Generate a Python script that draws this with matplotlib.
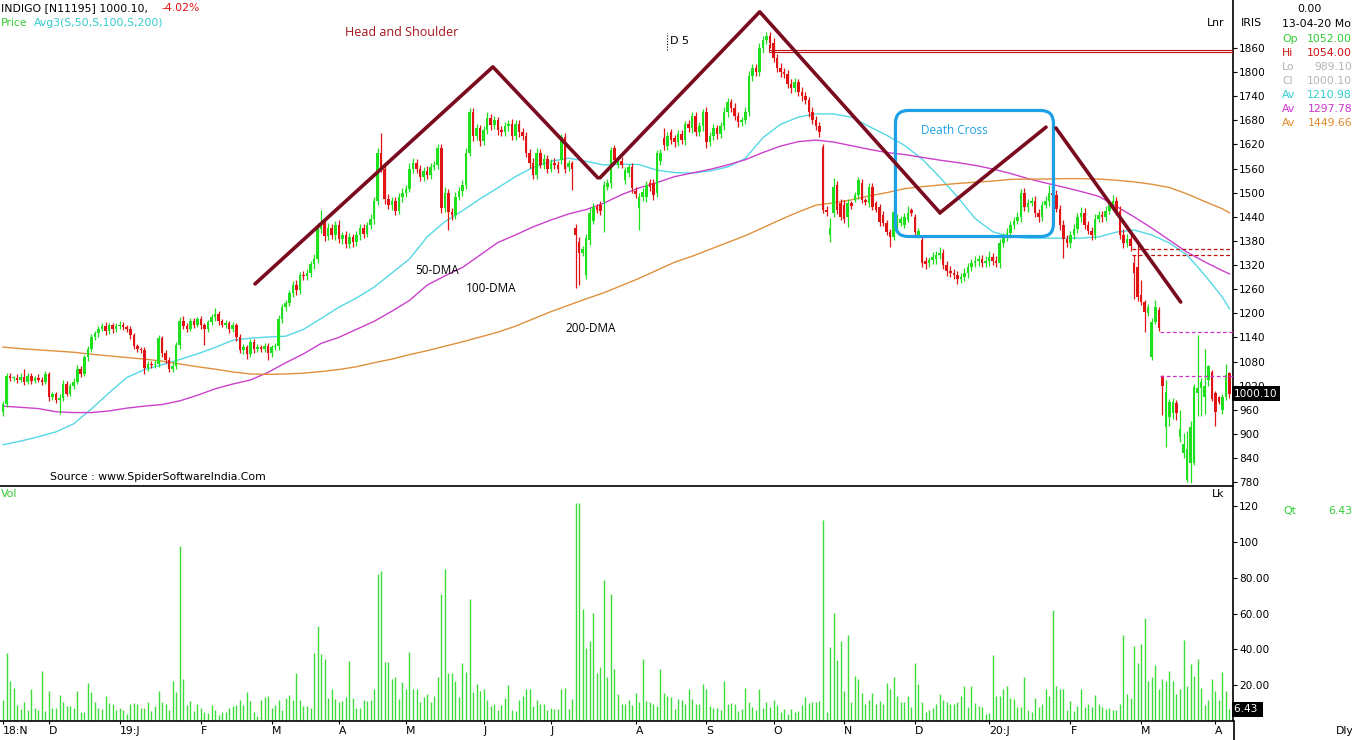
import numpy as np
import matplotlib.pyplot as plt
from matplotlib.patches import FancyBboxPatch
from matplotlib.lines import Line2D
from matplotlib.transforms import blended_transform_factory

# ---- daily prices (bar index 0 = mid Nov 2018, last = 13-04-2020) ----
opens = [
    955, 975, 1045, 1038, 1040, 1035, 1042, 1030, 1045, 1032, 1040, 1035, 1030, 1048, 992, 998, 985, 990, 1025, 1000,
    1020, 1030, 1062, 1050, 1090, 1110, 1140, 1150, 1162, 1168, 1155, 1170, 1160, 1168, 1172, 1165, 1160, 1145, 1118, 1110,
    1108, 1065, 1075, 1072, 1075, 1138, 1102, 1085, 1062, 1070, 1120, 1182, 1168, 1162, 1180, 1172, 1185, 1170, 1160, 1178,
    1190, 1198, 1180, 1172, 1175, 1160, 1170, 1142, 1108, 1115, 1098, 1128, 1110, 1115, 1112, 1118, 1100, 1115, 1118, 1185,
    1215, 1225, 1250, 1270, 1258, 1295, 1292, 1300, 1322, 1335, 1410, 1425, 1392, 1412, 1395, 1420, 1385, 1395, 1372, 1390,
    1378, 1395, 1412, 1398, 1420, 1435, 1480, 1600, 1560, 1485, 1470, 1480, 1455, 1490, 1500, 1510, 1560, 1575, 1560, 1540,
    1555, 1545, 1565, 1570, 1610, 1462, 1500, 1452, 1445, 1490, 1505, 1520, 1600, 1700, 1640, 1660, 1628, 1655, 1685, 1668,
    1680, 1655, 1650, 1665, 1672, 1640, 1672, 1650, 1640, 1600, 1575, 1545, 1600, 1570, 1585, 1560, 1575, 1570, 1581, 1639,
    1564, 1574, 1412, 1377, 1350, 1295, 1382, 1430, 1465, 1470, 1477, 1515, 1524, 1611, 1570, 1580, 1532, 1548, 1564, 1505,
    1462, 1490, 1490, 1525, 1525, 1499, 1580, 1636, 1615, 1650, 1635, 1625, 1645, 1630, 1670, 1660, 1690, 1650, 1665, 1700,
    1625, 1640, 1660, 1645, 1665, 1700, 1725, 1710, 1690, 1675, 1680, 1700, 1790, 1810, 1800, 1860, 1880, 1890, 1872, 1835,
    1810, 1800, 1795, 1770, 1760, 1775, 1750, 1740, 1730, 1700, 1680, 1665, 1614, 1457, 1395, 1450, 1520, 1474, 1470, 1440,
    1474, 1482, 1494, 1525, 1482, 1474, 1515, 1474, 1465, 1444, 1424, 1402, 1390, 1415, 1425, 1420, 1432, 1457, 1440, 1395,
    1382, 1330, 1325, 1333, 1335, 1345, 1350, 1320, 1305, 1300, 1295, 1285, 1290, 1300, 1315, 1325, 1330, 1335, 1325, 1330,
    1340, 1330, 1325, 1375, 1390, 1400, 1420, 1430, 1440, 1500, 1465, 1475, 1480, 1450, 1440, 1470, 1480, 1500, 1495, 1460,
    1420, 1385, 1375, 1395, 1410, 1440, 1450, 1420, 1405, 1395, 1435, 1445, 1440, 1455, 1470, 1480, 1455, 1395, 1375, 1385,
    1325, 1315, 1245, 1228, 1200, 1091, 1178, 1208, 1042, 917, 942, 952, 977, 892, 852, 785, 828, 828, 1002, 1014,
    992, 1034, 1054, 1002, 992, 960, 992, 1052,
]
closes = [
    975, 1045, 1038, 1040, 1035, 1042, 1030, 1045, 1032, 1040, 1035, 1030, 1048, 992, 998, 985, 990, 1025, 1000, 1020,
    1030, 1062, 1050, 1090, 1110, 1140, 1150, 1162, 1168, 1155, 1170, 1160, 1168, 1172, 1165, 1160, 1145, 1118, 1110, 1108,
    1065, 1075, 1072, 1075, 1138, 1102, 1085, 1062, 1070, 1120, 1182, 1168, 1162, 1180, 1172, 1185, 1170, 1160, 1178, 1190,
    1198, 1180, 1172, 1175, 1160, 1170, 1142, 1108, 1115, 1098, 1128, 1110, 1115, 1112, 1118, 1100, 1115, 1118, 1185, 1215,
    1225, 1250, 1270, 1258, 1295, 1292, 1300, 1322, 1335, 1410, 1425, 1392, 1412, 1395, 1420, 1385, 1395, 1372, 1390, 1378,
    1395, 1412, 1398, 1420, 1435, 1480, 1600, 1560, 1485, 1470, 1480, 1455, 1490, 1500, 1510, 1560, 1575, 1560, 1540, 1555,
    1545, 1565, 1570, 1610, 1462, 1500, 1452, 1445, 1490, 1505, 1520, 1600, 1700, 1640, 1660, 1628, 1655, 1685, 1668, 1680,
    1655, 1650, 1665, 1672, 1640, 1672, 1650, 1640, 1600, 1575, 1545, 1600, 1570, 1585, 1560, 1575, 1570, 1560, 1639, 1560,
    1574, 1560, 1395, 1350, 1360, 1387, 1450, 1465, 1457, 1455, 1520, 1524, 1606, 1581, 1580, 1570, 1556, 1564, 1512, 1497,
    1490, 1502, 1520, 1515, 1495, 1598, 1598, 1619, 1640, 1630, 1625, 1645, 1630, 1670, 1660, 1690, 1650, 1665, 1700, 1625,
    1640, 1660, 1645, 1665, 1700, 1725, 1710, 1690, 1675, 1680, 1700, 1790, 1810, 1800, 1860, 1880, 1890, 1872, 1835, 1810,
    1800, 1795, 1770, 1760, 1775, 1750, 1740, 1730, 1700, 1680, 1665, 1650, 1457, 1452, 1412, 1514, 1457, 1440, 1435, 1474,
    1468, 1494, 1532, 1482, 1476, 1515, 1465, 1457, 1427, 1424, 1402, 1390, 1452, 1440, 1435, 1440, 1450, 1450, 1402, 1405,
    1325, 1322, 1332, 1340, 1345, 1350, 1320, 1305, 1300, 1295, 1285, 1290, 1300, 1315, 1325, 1330, 1335, 1325, 1330, 1340,
    1330, 1325, 1375, 1390, 1400, 1420, 1430, 1440, 1500, 1465, 1475, 1480, 1450, 1440, 1470, 1480, 1500, 1495, 1460, 1420,
    1385, 1375, 1395, 1410, 1440, 1450, 1420, 1405, 1395, 1435, 1445, 1440, 1455, 1470, 1480, 1455, 1395, 1375, 1385, 1368,
    1300, 1240, 1228, 1203, 1215, 1178, 1216, 1163, 1020, 1004, 979, 979, 952, 912, 875, 862, 917, 1017, 1014, 1029,
    1019, 1069, 987, 955, 980, 992, 1047, 1000,
]
up_wick = [
    8, 6, 7, 5, 8, 10, 20, 6, 7, 5, 8, 6, 9, 7, 5, 6, 8, 10, 6, 7,
    8, 10, 6, 7, 9, 8, 6, 7, 8, 10, 7, 6, 9, 8, 7, 6, 8, 7, 6, 5,
    8, 7, 6, 9, 8, 6, 7, 6, 8, 9, 8, 10, 7, 8, 9, 6, 8, 7, 6, 8,
    15, 7, 6, 8, 7, 9, 6, 7, 8, 6, 9, 7, 8, 6, 7, 8, 6, 7, 10, 8,
    9, 8, 10, 12, 8, 9, 10, 8, 12, 15, 32, 10, 12, 9, 10, 12, 8, 10, 9, 8,
    10, 9, 10, 8, 12, 10, 12, 48, 10, 12, 9, 10, 8, 12, 10, 14, 12, 10, 9, 10,
    12, 10, 9, 10, 12, 14, 10, 9, 12, 10, 12, 10, 11, 10, 12, 9, 10, 15, 12, 10,
    9, 12, 10, 8, 12, 10, 9, 12, 10, 9, 12, 10, 9, 12, 10, 8, 12, 10, 8, 10,
    8, 6, 10, 12, 8, 10, 12, 10, 8, 10, 9, 10, 8, 8, 10, 8, 9, 8, 10, 8,
    10, 9, 10, 8, 9, 8, 10, 24, 10, 9, 8, 12, 10, 9, 12, 10, 12, 10, 9, 12,
    10, 12, 9, 10, 12, 10, 9, 12, 10, 9, 12, 12, 10, 9, 12, 10, 10, 9, 12, 10,
    12, 9, 10, 12, 10, 9, 12, 10, 9, 12, 10, 12, 8, 10, 25, 22, 8, 10, 12, 10,
    6, 8, 8, 10, 6, 9, 8, 6, 8, 10, 7, 8, 9, 8, 6, 10, 17, 6, 8, 7,
    12, 10, 9, 12, 10, 15, 10, 9, 12, 10, 9, 10, 12, 10, 9, 12, 10, 9, 12, 15,
    10, 12, 10, 9, 12, 10, 9, 12, 10, 12, 9, 10, 12, 10, 9, 12, 20, 10, 12, 10,
    12, 10, 9, 12, 10, 15, 12, 10, 9, 12, 10, 9, 12, 10, 15, 10, 12, 14, 12, 10,
    20, 59, 38, 5, 8, 10, 17, 8, 4, 30, 8, 10, 8, 48, 27, 45, 15, 7, 132, 11,
    93, 3, 4, 4, 3, 8, 28, 2,
]
dn_wick = [
    10, 8, 6, 7, 8, 6, 9, 7, 8, 6, 7, 8, 6, 10, 8, 7, 35, 8, 6, 7,
    8, 6, 9, 7, 8, 6, 7, 9, 6, 8, 7, 9, 6, 8, 7, 6, 9, 8, 7, 8,
    15, 8, 7, 9, 8, 10, 8, 9, 7, 8, 9, 7, 8, 6, 9, 7, 8, 40, 7, 8,
    8, 9, 7, 8, 9, 7, 10, 8, 9, 12, 8, 9, 7, 8, 9, 15, 8, 7, 9, 8,
    10, 8, 9, 12, 10, 9, 8, 10, 12, 9, 10, 12, 10, 9, 12, 10, 12, 10, 9, 12,
    10, 12, 10, 9, 10, 12, 10, 9, 14, 10, 12, 10, 9, 12, 10, 9, 12, 10, 12, 10,
    12, 10, 9, 10, 12, 10, 45, 12, 10, 9, 12, 10, 9, 12, 10, 12, 10, 9, 12, 10,
    12, 10, 9, 12, 10, 9, 12, 10, 12, 14, 12, 10, 9, 12, 10, 9, 12, 10, 9, 12,
    10, 53, 132, 80, 8, 10, 12, 9, 8, 10, 75, 9, 12, 10, 9, 8, 10, 9, 12, 10,
    55, 10, 12, 10, 12, 9, 10, 12, 10, 9, 12, 10, 9, 12, 10, 12, 10, 9, 12, 15,
    10, 9, 12, 10, 9, 12, 10, 9, 12, 10, 9, 10, 12, 10, 9, 12, 10, 12, 10, 9,
    12, 10, 9, 12, 10, 9, 12, 10, 12, 10, 9, 12, 8, 10, 18, 10, 10, 8, 10, 25,
    8, 6, 9, 8, 7, 10, 8, 6, 9, 8, 7, 25, 8, 9, 7, 8, 6, 8, 9, 7,
    10, 12, 9, 10, 12, 10, 9, 12, 10, 9, 12, 10, 9, 12, 10, 9, 12, 10, 9, 12,
    10, 9, 12, 10, 9, 12, 10, 9, 12, 10, 12, 9, 10, 12, 10, 9, 12, 10, 9, 12,
    48, 10, 12, 9, 10, 12, 10, 9, 12, 10, 9, 12, 10, 9, 12, 10, 9, 12, 10, 12,
    65, 10, 8, 50, 8, 6, 5, 6, 73, 50, 22, 15, 17, 12, 12, 5, 50, 5, 57, 69,
    42, 15, 4, 35, 5, 10, 7, 11,
]

# volume in lakhs
volume = [
    11.6, 37.8, 22.4, 18.7, 8.8, 6.9, 10.7, 6.4, 18.1, 7.5, 6.0, 28.0, 5.6, 16.8, 7.5, 7.5, 14.8, 10.7, 8.6, 8.6,
    7.5, 16.8, 4.9, 5.2, 21.3, 16.3, 10.7, 7.5, 6.9, 14.2, 10.1, 9.7, 6.4, 7.5, 6.4, 4.1, 9.7, 10.1, 9.7, 7.5,
    7.5, 10.7, 5.6, 8.6, 16.8, 10.7, 9.4, 6.4, 22.4, 16.3, 97.6, 23.2, 9.2, 11.2, 5.6, 9.7, 7.5, 4.9, 4.5, 9.2,
    6.4, 3.6, 5.0, 5.0, 7.5, 8.6, 9.2, 12.0, 8.8, 16.3, 11.2, 5.0, 2.8, 12.0, 13.5, 14.2, 7.5, 8.8, 12.0, 6.4,
    12.9, 14.8, 12.0, 26.6, 11.6, 8.2, 8.2, 7.5, 37.8, 53.3, 37.2, 34.4, 13.1, 17.6, 12.5, 10.5, 11.4, 13.5, 33.3, 13.1,
    7.3, 7.5, 12.0, 11.0, 11.6, 17.6, 82.3, 83.6, 33.1, 33.1, 23.2, 24.3, 12.3, 21.9, 18.1, 38.7, 17.8, 17.6, 10.8, 13.5,
    15.3, 10.8, 14.2, 24.3, 70.9, 84.9, 26.6, 26.6, 22.6, 13.5, 32.2, 27.1, 68.0, 16.3, 20.9, 17.0, 17.6, 11.6, 8.2, 9.7,
    6.0, 9.2, 13.1, 20.0, 6.4, 5.6, 12.0, 14.2, 17.6, 18.1, 8.6, 12.0, 9.7, 9.7, 6.4, 7.5, 6.9, 6.9, 17.6, 18.7,
    6.9, 12.5, 121.9, 121.9, 62.8, 40.6, 44.5, 60.2, 26.9, 29.9, 78.7, 24.3,
    70.9, 28.8, 15.0, 9.7, 9.7, 12.0, 8.8, 15.9, 10.8, 34.4, 11.2, 10.8, 9.7, 8.6, 28.8, 15.9, 14.2, 13.5, 6.9, 12.3,
    12.0, 9.7, 17.6, 12.3, 9.4, 9.4, 20.9, 18.1, 8.6, 7.1, 7.5, 6.0, 22.1, 9.7, 10.3, 9.7, 5.6, 6.7, 18.7, 10.8,
    7.9, 6.0, 17.6, 7.5, 10.8, 8.0, 12.0, 9.2, 5.2, 6.9, 4.1, 6.9, 5.2, 5.6, 9.2, 13.5, 10.1, 10.8, 10.8, 11.4,
    112.2, 5.2, 41.1, 60.2, 33.8, 44.5, 16.5, 47.9, 10.7, 25.4, 23.7, 15.9, 9.7, 12.0, 15.9, 9.7, 11.4, 9.7, 21.3, 18.1,
    24.7, 14.2, 10.8, 10.8, 14.2, 7.9, 32.5, 20.9, 10.8, 5.2, 6.0, 7.5, 9.7, 15.3, 12.0, 10.8, 9.7, 9.7, 10.8, 14.2,
    19.8, 8.0, 19.8, 10.3, 8.6, 8.0, 4.1, 4.5, 36.7, 14.2, 14.2, 18.1, 19.3, 13.1, 12.5, 8.0, 8.0, 24.3, 6.4, 5.2,
    13.1, 8.0, 9.7, 17.6, 14.2, 61.9, 19.3, 18.1, 18.1, 6.4, 11.4, 5.6, 8.6, 18.1, 8.0, 9.7, 8.0, 14.8, 9.7, 8.0,
    6.9, 7.5, 6.4, 6.4, 9.7, 47.9, 15.3, 13.1, 41.7, 32.2, 42.8, 57.4, 22.1, 24.3, 31.0, 17.6, 23.7, 22.6, 27.7, 22.1,
    15.3, 18.1, 45.1, 19.3, 31.6, 24.9, 34.4, 18.7, 9.2, 12.0, 23.2, 17.0, 12.0, 27.1, 17.0, 6.43,
]

# moving averages, read every 5 bars
ma_idx = list(range(0, 346, 5)) + [347]
sma50 = [873, 882, 893, 905, 925, 962, 1002, 1040, 1060, 1072, 1085, 1099, 1115, 1133, 1138, 1141, 1143, 1160,
         1187, 1215, 1238, 1265, 1300, 1335, 1390, 1428, 1455, 1485, 1512, 1540, 1563, 1578, 1586, 1578, 1569,
         1571, 1570, 1556, 1550, 1549, 1554, 1564, 1585, 1637, 1670, 1688, 1696, 1696, 1688, 1665, 1643, 1618,
         1584, 1539, 1490, 1436, 1403, 1390, 1387, 1387, 1387, 1387, 1390, 1402, 1407, 1395, 1375, 1345, 1295,
         1240, 1211]
sma100 = [969, 966, 963, 955, 953, 953, 957, 964, 969, 973, 982, 996, 1012, 1024, 1034, 1053, 1077, 1099, 1125,
          1140, 1160, 1180, 1205, 1232, 1270, 1293, 1314, 1345, 1376, 1395, 1415, 1432, 1447, 1458, 1474, 1495,
          1512, 1525, 1540, 1549, 1558, 1569, 1582, 1600, 1616, 1627, 1631, 1626, 1617, 1608, 1600, 1595, 1588,
          1581, 1575, 1568, 1559, 1548, 1535, 1524, 1514, 1503, 1491, 1466, 1440, 1412, 1382, 1352, 1328, 1306,
          1298]
sma200 = [1116, 1112, 1109, 1106, 1103, 1098, 1094, 1090, 1086, 1081, 1074, 1067, 1061, 1054, 1049, 1048, 1049,
          1051, 1055, 1060, 1067, 1077, 1086, 1097, 1107, 1118, 1129, 1141, 1153, 1168, 1186, 1204, 1220, 1236,
          1251, 1269, 1287, 1307, 1327, 1342, 1359, 1376, 1393, 1413, 1433, 1452, 1469, 1475, 1482, 1492, 1500,
          1510, 1515, 1519, 1523, 1526, 1529, 1533, 1534, 1534, 1535, 1535, 1534, 1531, 1527, 1521, 1513, 1497,
          1478, 1460, 1450]

month_pos = [0, 13, 33, 56, 76, 95, 114, 136, 155, 179, 199, 218, 238, 258, 279, 302, 322, 343]
month_lbl = ['18:N', 'D', '19:J', 'F', 'M', 'A', 'M', 'J', 'J', 'A', 'S', 'O', 'N', 'D', '20:J', 'F', 'M', 'A']

price_ticks = list(range(780, 1861, 60))
vol_ticks = [20, 40, 60, 80, 100, 120]
vol_tick_lbl = ['20.00', '40.00', '60.00', '80.00', '100', '120']

# hand drawn analysis lines (bar index, price)
trend_lines = [
    [(71.3, 1273), (138.6, 1813), (168.3, 1537)],
    [(168.9, 1537), (214.1, 1950), (265.1, 1450)],
    [(265.1, 1450), (295.1, 1663)],
    [(297.9, 1661), (333.2, 1228)],
]
death_box = (252.5, 1391, 297.2, 1704.5)

W, H = 1352, 740
plt.rcParams['font.family'] = ['DejaVu Sans']


def fx(px):
    return px / W


def fy(py):
    return 1 - py / H


fig = plt.figure(figsize=(W / 100, H / 100), dpi=100, facecolor='white')
ax = fig.add_axes([0, fy(486), fx(1233), fy(0) - fy(486)])
axv = fig.add_axes([0, fy(721), fx(1233), fy(487) - fy(721)])

idx = np.arange(len(closes))
o = np.array(opens, float)
c = np.array(closes, float)
hi = np.maximum(o, c) + np.array(up_wick)
lo = np.minimum(o, c) - np.array(dn_wick)
col = np.where(c >= o, '#1ee01e', '#e01414')

ax.vlines(idx, lo, hi, colors=col, lw=0.9, zorder=3)
ax.bar(idx, np.maximum(np.abs(c - o), 3), bottom=np.minimum(o, c), width=0.72,
       color=col, linewidth=0, zorder=3)

ax.plot(ma_idx, sma50, color='#55d8e6', lw=1.0, zorder=2)
ax.plot(ma_idx, sma100, color='#cc40cc', lw=1.0, zorder=2)
ax.plot(ma_idx, sma200, color='#e0903c', lw=1.0, zorder=2)

for pts in trend_lines:
    xs, ys = zip(*pts)
    ax.plot(xs, ys, color='#7a0a1e', lw=2.6, solid_capstyle='round', zorder=5)

x0, y0, x1, y1 = death_box
box = FancyBboxPatch((x0, y0), x1 - x0, y1 - y0, boxstyle='round,pad=0,rounding_size=3.6',
                     mutation_aspect=8.79, ec='#1ea0e6', fc='none', lw=2.3, zorder=4)
ax.add_patch(box)

xr = 348.0
ax.hlines([1855, 1849.5], 216.8, xr, colors='#c01010', lw=0.8, zorder=4)
ax.vlines(216.8, 1849.5, 1870, colors='#c01010', lw=0.8, zorder=4)
ax.hlines([1360, 1345], 319.5, xr, colors='#c01010', lw=0.9, linestyles=(0, (3, 2)), zorder=4)
ax.hlines([1153, 1045], 327.3, xr, colors='#cc33cc', lw=0.9, linestyles=(0, (3, 2)), zorder=4)
ax.vlines(187.8, 1855, 1897, colors='black', lw=0.8, linestyles=(0, (1, 1.5)), zorder=4)

ax.set_xlim(-0.85, xr)
ax.set_ylim(770.3, 1979.4)
ax.yaxis.tick_right()
ax.set_yticks(price_ticks)
ax.set_xticks([])
ax.tick_params(axis='y', direction='out', length=3, width=0.8, pad=1.5, labelsize=7.6)
for s in ['left', 'top']:
    ax.spines[s].set_visible(False)
for s in ['right', 'bottom']:
    ax.spines[s].set_linewidth(1.2)

tr = blended_transform_factory(ax.transAxes, ax.transData)
ax.text(1.001, c[-1], '1000.10', transform=tr, ha='left', va='center', fontsize=7.6, color='white',
        bbox=dict(fc='black', ec='none', pad=1.6), zorder=10, clip_on=False)

# volume panel
axv.vlines(idx, 0, volume, colors='#3cdc3c', lw=1.0)
axv.set_xlim(-0.85, xr)
axv.set_ylim(0, 130.7)
axv.yaxis.tick_right()
axv.set_yticks(vol_ticks)
axv.set_yticklabels(vol_tick_lbl)
axv.set_xticks(month_pos)
axv.set_xticklabels(month_lbl, ha='left')
axv.tick_params(axis='y', direction='out', length=3, width=0.8, pad=1.5, labelsize=7.6)
axv.tick_params(axis='x', direction='out', length=2, width=0.8, pad=1.5, labelsize=7.8)
for s in ['left', 'top']:
    axv.spines[s].set_visible(False)
for s in ['right', 'bottom']:
    axv.spines[s].set_linewidth(1.2)
trv = blended_transform_factory(axv.transAxes, axv.transData)
axv.text(1.001, volume[-1], '6.43 ', transform=trv, ha='left', va='center', fontsize=7.6, color='white',
         bbox=dict(fc='black', ec='none', pad=1.6), zorder=10, clip_on=False)

fig.add_artist(Line2D([fx(1233.5)] * 2, [0, fy(721)], color='black', lw=1.2))


# header and labels
def ftext(x, y, s, color='black', size=7.8, ha='left', family='DejaVu Sans'):
    fig.text(fx(x), fy(y), s, color=color, fontsize=size, ha=ha, va='center', family=family)


ftext(1, 8, 'INDIGO [N11195] 1000.10,')
ftext(161, 8, '-4.02%', color='#e01414')
ftext(1, 23, 'Price', color='#33cc33')
ftext(34, 23, 'Avg3(S,50,S,100,S,200)', color='#33cccc')
ftext(345, 32, 'Head and Shoulder', color='#a3151a', size=9, family='Open Sans')
ftext(670, 41, 'D 5', size=8)
ftext(415, 270, '50-DMA', size=8.5, family='Open Sans')
ftext(466, 289, '100-DMA', size=8.5, family='Open Sans')
ftext(565, 328, '200-DMA', size=8.5, family='Open Sans')
ftext(921, 130, 'Death Cross', color='#1ea0e6', size=8.5, family='Open Sans')
ftext(50, 477, 'Source : www.SpiderSoftwareIndia.Com')
ftext(1207, 23, 'Lnr')
ftext(1241, 23, 'IRIS')
ftext(1297, 9, '0.00')
ftext(1282, 24, '13-04-20 Mo')

panel = [('Op', '1052.00', '#33cc33'), ('Hi', '1054.00', '#cc1111'), ('Lo', '989.10', '#b4b4b4'),
         ('Cl', '1000.10', '#b4b4b4'), ('Av', '1210.98', '#33cccc'), ('Av', '1297.78', '#cc33cc'),
         ('Av', '1449.66', '#e08a2a')]
for k, (lab, val, clr) in enumerate(panel):
    ftext(1282, 39 + 14 * k, lab, color=clr)
    ftext(1352, 39 + 14 * k, val, color=clr, ha='right')

ftext(1, 494, 'Vol', color='#33cc33')
ftext(1212, 494, 'Lk')
ftext(1283, 511, 'Qt', color='#33cc33')
ftext(1352, 511, '6.43', color='#33cc33', ha='right')
ftext(1336, 731, 'Dly')

fig.savefig('out.png', dpi=100, facecolor='white')
